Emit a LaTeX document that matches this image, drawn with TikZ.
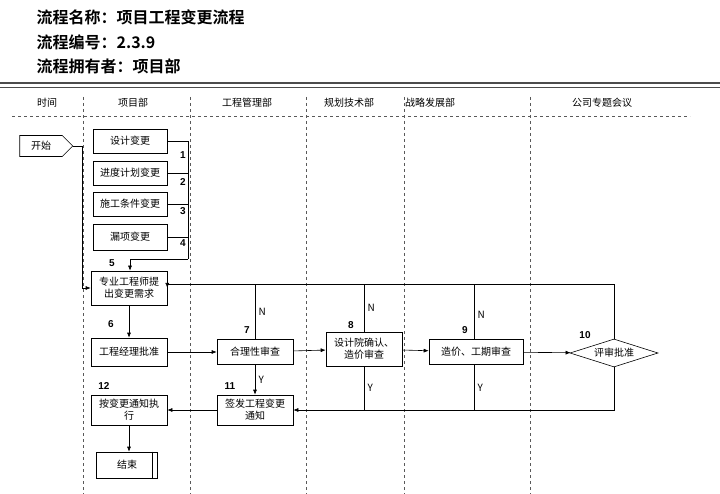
\documentclass[tikz,border=0pt]{standalone}
\usepackage{fontspec}
\setmainfont{Liberation Sans}
\newfontfamily\cjk{Noto Sans CJK SC}
\newfontfamily\cjkbold{Noto Sans CJK SC Bold}
\usetikzlibrary{arrows.meta,shapes,shapes.geometric}

\begin{document}
\begin{tikzpicture}[x=1pt,y=-1pt,>={Latex[length=5pt,width=4pt]},semithick,font=\cjk\fontsize{10}{12}\selectfont]
\useasboundingbox (0,0) rectangle (720,494);
\tikzstyle{box}=[draw, align=center, inner sep=1pt];
\tikzstyle{lane}=[dashed, thick, gray!70!black];
\tikzstyle{num}=[font=\fontsize{10}{12}\selectfont\bfseries];

% header
\node[anchor=west, font=\cjkbold\fontsize{16}{18}\selectfont] (t1) at (33,17) {流程名称：项目工程变更流程};
\node[anchor=west, font=\cjkbold\fontsize{16}{18}\selectfont] (t2) at (33,42) {流程编号：2.3.9};
\node[anchor=west, font=\cjkbold\fontsize{16}{18}\selectfont] (t3) at (33,66) {流程拥有者：项目部};
\draw[very thick, gray!60!black] (0,83) -- (720,83);
\draw[gray!60!black] (0,87) -- (720,87);

\node (h0) at (47,103) {时间};
\node (h1) at (133,103) {项目部};
\node (h2) at (247,103) {工程管理部};
\node (h3) at (349,103) {规划技术部};
\node (h4) at (430,103) {战略发展部};
\node (h5) at (602,103) {公司专题会议};
\draw[lane] (12,116) -- (690,116);
\foreach \x in {83,190,306,404,530}
  \draw[lane] (\x,97) -- (\x,494);

% nodes
\node[draw, shape=signal, signal to=east, minimum width=53pt, minimum height=21pt, inner sep=1pt] (start) at (41,146) {开始};
\node[box, minimum width=74pt, minimum height=24pt] (c1) at (130,141) {设计变更};
\node[box, minimum width=74pt, minimum height=24pt] (c2) at (130,173) {进度计划变更};
\node[box, minimum width=74pt, minimum height=24pt] (c3) at (130,204) {施工条件变更};
\node[box, minimum width=74pt, minimum height=26pt] (c4) at (130,237) {漏项变更};
\node[box, text width=74pt, minimum height=34pt] (s5) at (129,288) {专业工程师提\\出变更需求};
\node[box, minimum width=76pt, minimum height=28pt] (s6) at (129,352) {工程经理批准};
\node[box, minimum width=76pt, minimum height=25pt] (s7) at (255,352) {合理性审查};
\node[box, text width=74pt, minimum height=34pt] (s8) at (364,349) {设计院确认、\\造价审查};
\node[box, minimum width=94pt, minimum height=25pt] (s9) at (476,352) {造价、工期审查};
\node[draw, shape=diamond, aspect=3.2, inner sep=0pt, minimum width=88pt, minimum height=28pt] (s10) at (614,353) {评审批准};
\node[box, text width=74pt, minimum height=30pt] (s11) at (255,410) {签发工程变更\\通知};
\node[box, text width=74pt, minimum height=30pt] (s12) at (129,410) {按变更通知执\\行};
\node[box, minimum width=61pt, minimum height=26pt] (s13) at (127,465) {结束};
\draw (s13.north east) ++(-6,0) -- ++(0,26);

% numbers
\node[num] (n1) at (183,155) {1};
\node[num] (n2) at (183,182) {2};
\node[num] (n3) at (183,211) {3};
\node[num] (n4) at (183,243) {4};
\node[num] (n5) at (112,263) {5};
\node[num] (n6) at (111,324) {6};
\node[num] (n7) at (247,330) {7};
\node[num] (n8) at (351,325) {8};
\node[num] (n9) at (465,330) {9};
\node[num] (n10) at (585,335) {10};
\node[num] (n11) at (230,386) {11};
\node[num] (n12) at (104,386) {12};

% connectors
\coordinate (bus) at (188,259);
\draw (c1.east) -- (188,141) -- (bus);
\draw (c2.east) -- (188,173);
\draw (c3.east) -- (188,204);
\draw (c4.east) -- (188,237);
\draw[->] (bus) -- (130,259) -- (s5.north -| 130,0);
\draw[->] (start.east) -- (82,146) -- (82,288) -- (s5.west);
\draw[->] (s5) -- (s6);
\draw[->] (s6) -- (s7);
\draw[->] (s7) -- (s8);
\draw[->] (s8) -- (s9);
\draw[->] (s9) -- (s10);
\draw[->] (s10.north) -- (614,284) -- (s5.east |- 0,284) -- (s5.east);
\draw (s7.north) -- (255,284) node[midway, right] {N};
\draw (s8.north) -- (364,284) node[midway, right] {N};
\draw (s9.north -| 474,0) -- (474,284) node[pos=0.45, right] {N};
\draw[->] (s7) -- (s11) node[midway, right] {Y};
\draw[->] (s10.south) -- (614,410) -- (s11.east);
\draw (s8.south) -- (364,410) node[midway, right] {Y};
\draw (s9.south -| 474,0) -- (474,410) node[midway, right] {Y};
\draw[->] (s11) -- (s12);
\draw[->] (s12.south -| 129,0) -- (s13.north -| 129,0);
\end{tikzpicture}
\end{document}
